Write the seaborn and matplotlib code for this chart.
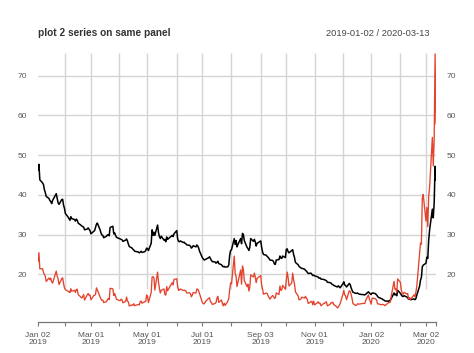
#!/usr/bin/env python3

import numpy as np
import pandas as pd
import matplotlib
matplotlib.use("Agg")
from matplotlib import pyplot as plt
import seaborn as sns

# trading days 2019-01-02 .. 2020-03-13 (NYSE holidays removed)
holidays = ["2019-01-01", "2019-01-21", "2019-02-18", "2019-04-19", "2019-05-27",
            "2019-07-04", "2019-09-02", "2019-11-28", "2019-12-25",
            "2020-01-01", "2020-01-20", "2020-02-17"]
dates = pd.bdate_range("2019-01-02", "2020-03-13", freq="C", holidays=holidays)

# series 1 (black), one value per trading day, month by month
black = [
    46.2, 47.7, 43.8, 43.0, 42.6, 41.3, 40.6, 39.6, 39.1, 38.6, 38.3, 37.8, 38.6, 40.3, 39.2, 38.0, 37.6, 38.8, 38.9, 37.4, 36.6,
    35.3, 34.4, 34.0, 33.6, 34.5, 34.0, 33.8, 33.4, 33.9, 33.6, 32.9, 32.2, 32.0, 31.9, 31.2, 31.4, 31.7, 31.3, 31.0,
    30.2, 30.8, 31.0, 31.8, 32.6, 32.9, 31.2, 30.4, 29.9, 29.8, 29.2, 29.6, 29.9, 30.0, 29.7, 31.8, 32.1, 30.2, 30.4, 29.8, 29.3,
    29.0, 28.9, 28.8, 28.7, 28.3, 28.6, 28.9, 28.4, 27.6, 27.0, 26.6, 26.3, 26.1, 25.8, 25.6, 25.4, 25.6, 25.8, 25.5, 25.7, 26.0,
    26.6, 26.4, 26.0, 27.8, 31.2, 29.8, 30.6, 29.8, 32.4, 30.5, 29.5, 29.0, 29.6, 28.6, 28.8, 28.2, 29.4, 28.8, 29.6, 29.8, 29.5, 30.2,
    31.0, 28.9, 28.3, 28.2, 28.4, 28.0, 28.1, 27.8, 27.7, 27.4, 27.3, 27.1, 26.6, 26.8, 27.2, 26.9, 27.4, 27.1, 26.6, 25.8,
    24.2, 23.9, 23.6, 23.8, 24.2, 24.4, 23.9, 23.5, 23.2, 23.1, 22.8, 23.0, 23.3, 22.7, 22.4, 22.1, 21.9, 22.0, 21.8, 21.9, 22.4, 24.8,
    26.0, 26.2, 29.0, 27.5, 28.5, 26.9, 27.5, 29.0, 27.7, 30.3, 30.0, 28.5, 26.8, 26.5, 26.0, 26.7, 29.0, 28.3, 28.8, 28.2, 27.1, 27.8,
    28.4, 26.8, 25.6, 25.0, 24.8, 24.5, 24.3, 24.0, 23.6, 23.5, 23.2, 22.6, 22.5, 23.6, 23.7, 24.6, 24.1, 24.0, 24.6, 24.2,
    26.3, 26.4, 25.7, 25.4, 26.0, 26.2, 25.0, 24.2, 23.0, 22.4, 22.0, 21.8, 21.6, 21.5, 21.3, 21.0, 20.8, 20.5, 20.2, 20.3, 20.0, 19.7, 19.8,
    19.6, 19.4, 19.3, 19.0, 19.1, 18.8, 18.7, 18.6, 18.5, 18.4, 18.0, 17.9, 17.8, 17.5, 17.4, 17.2, 16.9, 16.8, 17.1, 16.6,
    17.6, 18.1, 17.3, 17.2, 16.8, 17.7, 17.4, 16.6, 16.0, 15.5, 15.2, 15.2, 15.3, 15.1, 15.0, 14.9, 14.9, 14.8, 15.0, 15.6, 15.3,
    14.9, 15.3, 15.2, 15.0, 14.8, 14.4, 14.2, 13.9, 13.8, 13.6, 13.5, 13.3, 13.2, 13.4, 13.5, 13.9, 15.3, 14.8, 15.0, 14.6, 16.0,
    15.2, 14.8, 14.5, 14.4, 14.6, 14.3, 14.1, 13.7, 13.8, 13.6, 13.8, 13.6, 13.9, 14.8, 17.0, 18.5, 19.2, 21.9, 22.3,
    22.8, 24.3, 24.0, 28.6, 31.2, 36.4, 34.2, 38.0, 47.2, 43.7,
]

# series 2 (red)
red = [
    23.22, 25.45, 21.38, 21.40, 20.47, 19.98, 19.50, 18.19, 19.07, 18.60, 19.04, 18.06, 17.80, 20.80, 19.52, 18.89, 17.42, 18.87, 19.13, 17.66, 16.57,
    16.14, 15.73, 15.57, 15.38, 16.37, 15.72, 15.97, 15.43, 16.22, 16.22, 14.91, 14.02, 14.46, 14.88, 13.51, 14.85, 15.17, 14.70, 14.78,
    13.57, 14.63, 14.74, 14.93, 16.59, 16.05, 14.33, 13.77, 13.41, 13.50, 12.88, 13.10, 13.56, 13.91, 13.63, 16.48, 16.33, 14.68, 15.15, 14.43, 13.71,
    13.40, 13.36, 13.74, 13.58, 12.82, 13.18, 14.28, 13.30, 13.02, 12.01, 12.32, 12.18, 12.60, 12.09, 12.42, 12.28, 13.14, 13.25, 12.73, 13.11, 13.12,
    14.80, 14.42, 12.87, 15.44, 19.32, 19.40, 19.10, 16.04, 20.55, 18.06, 16.44, 15.29, 15.96, 16.31, 14.95, 14.75, 16.92, 15.85, 17.50, 17.90, 17.30, 18.71,
    18.86, 16.97, 15.93, 16.09, 16.30, 15.94, 15.99, 15.91, 15.82, 15.28, 15.35, 15.15, 14.33, 14.75, 15.40, 15.26, 16.28, 16.21, 15.82, 15.08,
    12.93, 12.57, 12.57, 13.28, 13.96, 14.09, 13.03, 12.93, 12.39, 12.68, 12.86, 13.97, 14.45, 12.93, 13.53, 12.61, 12.07, 12.74, 12.16, 13.24, 13.94, 16.12,
    17.87, 17.61, 24.59, 20.17, 19.49, 16.91, 17.97, 21.09, 17.52, 22.10, 21.18, 18.47, 16.88, 17.50, 15.80, 16.68, 19.87, 19.32, 20.31, 19.35, 17.88, 18.98,
    19.66, 17.33, 16.27, 15.00, 15.27, 15.20, 14.61, 14.22, 13.74, 14.67, 14.44, 13.95, 14.05, 15.32, 14.91, 17.05, 15.96, 16.07, 17.22, 16.24,
    18.56, 20.56, 19.12, 17.04, 17.86, 20.28, 18.64, 17.57, 15.58, 14.57, 13.54, 13.68, 13.79, 14.25, 14.00, 14.46, 14.01, 13.71, 12.65, 13.11, 13.20, 12.33, 13.22,
    12.30, 12.83, 13.10, 12.62, 12.73, 12.07, 12.69, 12.68, 13.00, 13.05, 12.05, 12.46, 12.86, 12.78, 12.98, 12.34, 11.87, 11.54, 11.75, 12.62,
    14.91, 15.96, 14.80, 14.52, 13.62, 15.86, 15.68, 14.99, 13.94, 12.63, 12.14, 12.29, 12.58, 12.50, 12.51, 12.61, 12.67, 12.65, 13.43, 14.82, 13.78,
    12.47, 14.02, 13.85, 13.79, 13.45, 12.54, 12.56, 12.32, 12.39, 12.42, 12.32, 12.10, 12.85, 12.91, 12.98, 14.56, 18.23, 16.28, 16.39, 15.49, 18.84,
    17.97, 16.05, 15.15, 14.96, 15.47, 15.04, 15.18, 13.74, 14.15, 13.68, 14.83, 14.38, 15.56, 17.08, 25.03, 27.85, 27.56, 39.16, 40.11,
    33.42, 36.82, 31.99, 39.62, 41.94, 54.46, 47.30, 53.90, 75.47, 57.83,
]

yticks = [20, 30, 40, 50, 60, 70]
title = "plot 2 series on same panel"
subtitle = "2019-01-02 / 2020-03-13"

assert len(dates) == len(black) == len(red)

sns.set_theme(style="white")
plt.rcParams["font.family"] = ["Liberation Sans", "DejaVu Sans"]

df = pd.DataFrame({"date": dates, "black": black, "red": red})

fig = plt.figure(figsize=(4.74, 3.53), dpi=100)
ax = fig.add_axes([38 / 474, 1 - 322 / 353, 398 / 474, 270 / 353])

grid_col = "#d4d4d4"
month_first = df.groupby([df["date"].dt.year, df["date"].dt.month])["date"].first().tolist()
ax.vlines(month_first[1:], 16.3, 75.6, color=grid_col, lw=1, zorder=0)

sns.lineplot(data=df, x="date", y="black", color="black", lw=1.1, ax=ax)
sns.lineplot(data=df, x="date", y="red", color="#e4432d", lw=0.95, ax=ax)

ax.set_xlim(dates[0], dates[-1])
ax.set_ylim(7.99, 75.97)
ax.set_xlabel("")
ax.set_ylabel("")

ax.set_yticks(yticks)
ax.yaxis.grid(True, color=grid_col, lw=1)
ax.xaxis.grid(False)
ax.set_axisbelow(True)
ax.tick_params(axis="y", left=False, right=False, length=0, labelleft=True, labelright=True,
               pad=7.8, labelsize=6.1, labelcolor="#595959")

tick_dates = month_first + [dates[-1]]
tick_labels = [d.strftime("%b %d\n%Y") if i % 2 == 0 and i < len(month_first) else ""
               for i, d in enumerate(tick_dates)]
ax.set_xticks(tick_dates)
ax.set_xticklabels(tick_labels, linespacing=1.1)
ax.tick_params(axis="x", bottom=True, direction="out", length=3, width=0.8,
               color="#777777", pad=4, labelsize=6.0, labelcolor="#555555")

for side in ["top", "left", "right"]:
    ax.spines[side].set_visible(False)
ax.spines["bottom"].set_color("#777777")
ax.spines["bottom"].set_linewidth(0.9)

fig.text(38 / 474, 1 - 33 / 353, title, ha="left", va="center",
         fontsize=7.3, fontweight="bold", color="#333333")
fig.text(430 / 474, 1 - 33 / 353, subtitle, ha="right", va="center",
         fontsize=6.7, color="#444444")

fig.savefig("out.png", dpi=100)
